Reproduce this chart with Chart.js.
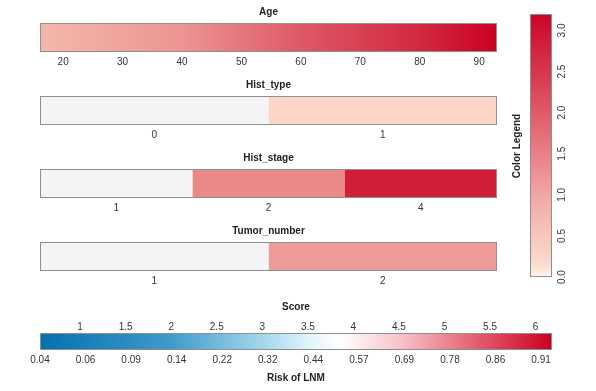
<!DOCTYPE html>
<html>
<head>
<meta charset="utf-8">
<script src="https://cdn.jsdelivr.net/npm/chart.js@4/dist/chart.umd.min.js"></script>
<style>
  html, body { margin: 0; padding: 0; background: #fff; }
  body { width: 596px; height: 391px; position: relative; overflow: hidden; }
  .box { position: absolute; }
</style>
</head>
<body>
<div class="box" id="row0" style="left:0;top:0;width:520px;height:73px"><canvas id="c0"></canvas></div>
<div class="box" id="row1" style="left:0;top:73px;width:520px;height:73px"><canvas id="c1"></canvas></div>
<div class="box" id="row2" style="left:0;top:146px;width:520px;height:73px"><canvas id="c2"></canvas></div>
<div class="box" id="row3" style="left:0;top:219px;width:520px;height:73px"><canvas id="c3"></canvas></div>
<div class="box" style="left:0;top:0;width:300px;height:70px;transform-origin:0 0;transform:translate(505px,288px) rotate(-90deg)"><canvas id="legend"></canvas></div>
<div class="box" style="left:0;top:290px;width:596px;height:101px"><canvas id="score"></canvas></div>
<script>
// --- data ---
const ageRange = [16.1, 93];
const ageTicks = [20, 30, 40, 50, 60, 70, 80, 90];
const histTypeLevels = ['0', '1'];
const histStageLevels = ['1', '2', '4'];
const tumorNumberLevels = ['1', '2'];
const legendRange = [0, 3.2];
const legendTicks = [0, 0.5, 1, 1.5, 2, 2.5, 3];
const scoreRange = [0.56, 6.18];
const scoreTicks = [1, 1.5, 2, 2.5, 3, 3.5, 4, 4.5, 5, 5.5, 6];
const riskLabels = ['0.04', '0.06', '0.09', '0.14', '0.22', '0.32', '0.44', '0.57', '0.69', '0.78', '0.86', '0.91'];
const riskTickScores = [0.56, 1.06, 1.56, 2.06, 2.56, 3.06, 3.56, 4.06, 4.56, 5.06, 5.56, 6.06];

// --- styles ---
const FONT = "'Liberation Sans', Arial, sans-serif";
Chart.defaults.font.family = FONT;
Chart.defaults.font.size = 10;
Chart.defaults.color = '#333';
Chart.defaults.animation = false;

const ageStops = [[16.1, '#f4b8ab'], [40, '#ec9593'], [60, '#de5868'], [80, '#d2293f'], [93, '#c90022']];
const legendStops = [[0, '#fff4ee'], [0.15, '#fcdccd'], [1, '#f1a6a4'], [2, '#e05a69'], [3.2, '#cb0427']];
const scoreStops = [[0.56, '#0571b0'], [2, '#3f9acb'], [3, '#a3d6ec'], [3.5, '#e0f4fa'], [3.85, '#ffffff'], [4.5, '#f8c4cb'], [5.2, '#e86f7e'], [6.18, '#ca0020']];
const levelColors = {
  Hist_type: ['#f4f4f4', '#fbd5c5'],
  Hist_stage: ['#f4f4f4', '#e98a87', '#d21e37'],
  Tumor_number: ['#f4f4f4', '#ee9c99']
};
const noGrid = { display: false, drawTicks: false };

const framePlugin = {
  id: 'frame',
  afterDatasetsDraw(chart) {
    const a = chart.chartArea;
    const ctx = chart.ctx;
    ctx.save();
    ctx.strokeStyle = '#8f8f8f';
    ctx.lineWidth = 1;
    ctx.strokeRect(a.left + 0.5, a.top + 0.5, a.width - 1, a.height - 1);
    ctx.restore();
  }
};

function hGradient(stops) {
  return (c) => {
    const chart = c.chart;
    const a = chart.chartArea;
    if (!a) return stops[0][1];
    const x = chart.scales.x;
    const g = chart.ctx.createLinearGradient(a.left, 0, a.right, 0);
    stops.forEach(([v, col]) => {
      const t = (x.getPixelForValue(v) - a.left) / a.width;
      g.addColorStop(Math.min(1, Math.max(0, t)), col);
    });
    return g;
  };
}

function setTicks(values) {
  return (scale) => { scale.ticks = values.map((value) => ({ value })); };
}

function rowOptions(title, xScale) {
  return {
    indexAxis: 'y',
    responsive: true,
    maintainAspectRatio: false,
    layout: { padding: { left: 40, right: 23, top: 0, bottom: 1 } },
    plugins: {
      legend: { display: false },
      tooltip: { enabled: false },
      title: { display: true, text: title, color: '#222', font: { size: 10, weight: 'bold' }, padding: { top: 6, bottom: 5 } }
    },
    scales: {
      y: { display: false },
      x: Object.assign({
        type: 'linear',
        grid: noGrid,
        border: { display: false }
      }, xScale)
    }
  };
}

// Age row
new Chart(document.getElementById('c0'), {
  type: 'bar',
  data: {
    labels: [''],
    datasets: [{ data: [ageRange], backgroundColor: hGradient(ageStops), barPercentage: 1, categoryPercentage: 1 }]
  },
  options: rowOptions('Age', {
    min: ageRange[0], max: ageRange[1],
    afterBuildTicks: setTicks(ageTicks),
    ticks: { padding: 4, color: '#333', maxRotation: 0, callback: (v) => String(v) }
  }),
  plugins: [framePlugin]
});

function levelRow(id, title, levels) {
  new Chart(document.getElementById(id), {
    type: 'bar',
    data: {
      labels: [''],
      datasets: levels.map((lvl, i) => ({
        label: lvl,
        data: [[i, i + 1]],
        backgroundColor: levelColors[title][i],
        grouped: false,
        barPercentage: 1,
        categoryPercentage: 1
      }))
    },
    options: rowOptions(title, {
      min: 0, max: levels.length,
      afterBuildTicks: setTicks(levels.map((_, i) => i + 0.5)),
      ticks: { padding: 4, color: '#333', maxRotation: 0, callback: (v, i) => levels[i] }
    }),
    plugins: [framePlugin]
  });
}
levelRow('c1', 'Hist_type', histTypeLevels);
levelRow('c2', 'Hist_stage', histStageLevels);
levelRow('c3', 'Tumor_number', tumorNumberLevels);

// Colour legend (drawn horizontally, page rotates it)
new Chart(document.getElementById('legend'), {
  type: 'bar',
  data: {
    labels: [''],
    datasets: [{ data: [legendRange], backgroundColor: hGradient(legendStops), barPercentage: 1, categoryPercentage: 1 }]
  },
  options: {
    indexAxis: 'y',
    responsive: true,
    maintainAspectRatio: false,
    layout: { padding: { left: 10, right: 26, top: 0, bottom: 3 } },
    plugins: {
      legend: { display: false },
      tooltip: { enabled: false },
      title: { display: true, text: 'Color Legend', color: '#222', font: { size: 10, weight: 'bold' }, padding: { top: 6, bottom: 7 } }
    },
    scales: {
      y: { display: false },
      x: {
        type: 'linear', min: legendRange[0], max: legendRange[1],
        grid: noGrid, border: { display: false },
        afterBuildTicks: setTicks(legendTicks),
        ticks: { padding: 4, color: '#333', maxRotation: 0, callback: (v) => v.toFixed(1) }
      }
    }
  },
  plugins: [framePlugin]
});

// Score / risk bar
new Chart(document.getElementById('score'), {
  type: 'bar',
  data: {
    labels: [''],
    datasets: [{ data: [scoreRange], backgroundColor: hGradient(scoreStops), barPercentage: 1, categoryPercentage: 1 }]
  },
  options: {
    indexAxis: 'y',
    responsive: true,
    maintainAspectRatio: false,
    layout: { padding: { left: 40, right: 44, top: 7, bottom: 5 } },
    plugins: { legend: { display: false }, tooltip: { enabled: false } },
    scales: {
      y: { display: false },
      x: {
        type: 'linear', position: 'top', min: scoreRange[0], max: scoreRange[1],
        grid: noGrid, border: { display: false },
        afterBuildTicks: setTicks(scoreTicks),
        ticks: { padding: 0, color: '#333', maxRotation: 0, callback: (v) => String(v) },
        title: { display: true, text: 'Score', color: '#222', font: { size: 10, weight: 'bold' }, padding: { top: 4, bottom: 8 } }
      },
      x2: {
        type: 'linear', position: 'bottom', min: scoreRange[0], max: scoreRange[1],
        grid: noGrid, border: { display: false },
        afterBuildTicks: setTicks(riskTickScores),
        ticks: { padding: 4, color: '#333', maxRotation: 0, callback: (v, i) => riskLabels[i] },
        title: { display: true, text: 'Risk of LNM', color: '#222', font: { size: 10, weight: 'bold' }, padding: { top: 2, bottom: 2 } }
      }
    }
  },
  plugins: [framePlugin]
});
</script>
</body>
</html>
